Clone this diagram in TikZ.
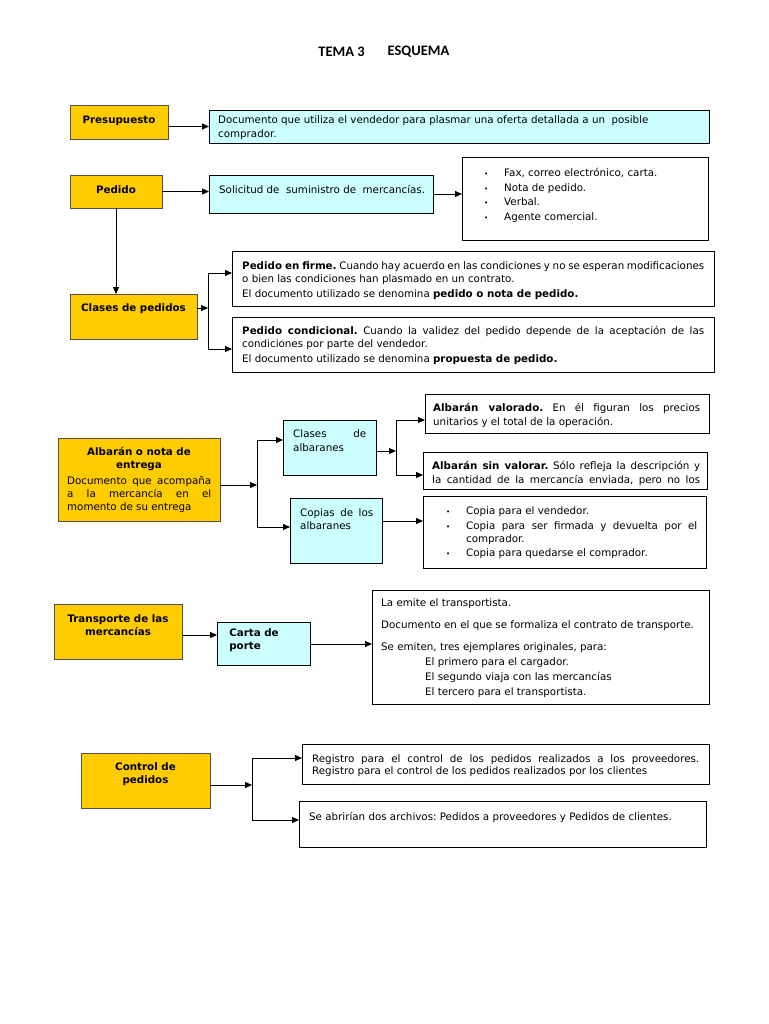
\documentclass[tikz,border=0pt]{standalone}
\usepackage{fontspec}
\setmainfont{DejaVu Sans}
\newfontfamily\titlefont{Carlito}
\usetikzlibrary{arrows.meta}
\definecolor{yel}{HTML}{FFCC00}
\definecolor{cya}{HTML}{CCFFFF}
\definecolor{ybord}{HTML}{505050}
\frenchspacing
\newcommand{\jl}[2]{\makebox[#1pt][s]{#2}}
\newcommand{\bul}{\makebox[20pt][l]{\fontsize{7}{7}\selectfont •}}
\tikzset{
  base/.style={inner sep=0pt, outer sep=0pt, line width=0.9pt},
  ybox/.style={base, draw=ybord, fill=yel},
  cbox/.style={base, draw=black, fill=cya},
  wbox/.style={base, draw=black, fill=white},
  arr/.style={line width=0.9pt, -{Triangle[length=7pt,width=6pt]}},
  ln/.style={line width=0.9pt},
  txt/.style={anchor=north west, inner sep=0pt, align=left, font=\fontsize{10.3}{13.5}\selectfont\frenchspacing},
  btxt/.style={inner sep=0pt, align=center, font=\fontsize{10.3}{12.5}\selectfont\bfseries},
}
\begin{document}
\begin{tikzpicture}[x=1pt,y=-1pt]
\useasboundingbox (0,0) rectangle (768,1024);
% title
\node[inner sep=0pt, font=\titlefont\fontsize{14.5}{16}\selectfont\bfseries] (t1) at (341.5,52) {TEMA 3};
\node[inner sep=0pt, font=\titlefont\fontsize{14.5}{16}\selectfont\bfseries] (t2) at (418.5,52) {ESQUEMA};

% boxes
\node[ybox, minimum width=98pt, minimum height=34pt] (pres) at (119,122) {};
\node[cbox, minimum width=500pt, minimum height=33pt] (doc) at (459,126.5) {};
\node[ybox, minimum width=92pt, minimum height=33pt] (pedido) at (116,191.5) {};
\node[cbox, minimum width=224pt, minimum height=38pt] (sol) at (321,194) {};
\node[wbox, minimum width=246pt, minimum height=83pt] (list) at (585,198.5) {};
\node[ybox, minimum width=127pt, minimum height=45pt] (clases) at (133.5,316.5) {};
\node[wbox, minimum width=482pt, minimum height=55pt] (firme) at (473,278.5) {};
\node[wbox, minimum width=482pt, minimum height=55pt] (cond) at (473,344.5) {};
\node[ybox, minimum width=162pt, minimum height=83pt] (alb) at (139,479.5) {};
\node[cbox, minimum width=93pt, minimum height=55pt] (calb) at (329.5,447.5) {};
\node[wbox, minimum width=284pt, minimum height=39pt] (valor) at (567,413.5) {};
\node[wbox, minimum width=284pt, minimum height=37pt] (sinval) at (565,470.5) {};
\node[cbox, minimum width=92pt, minimum height=65pt] (copias) at (336,530.5) {};
\node[wbox, minimum width=283pt, minimum height=72pt] (clist) at (564.5,532) {};
\node[ybox, minimum width=128pt, minimum height=55pt] (transp) at (118,631.5) {};
\node[cbox, minimum width=93pt, minimum height=43pt] (carta) at (263.5,643.5) {};
\node[wbox, minimum width=337pt, minimum height=114pt] (tbox) at (540.5,647) {};
\node[ybox, minimum width=129pt, minimum height=55pt] (control) at (145.5,780.5) {};
\node[wbox, minimum width=407pt, minimum height=40pt] (reg) at (505.5,764) {};
\node[wbox, minimum width=407pt, minimum height=46pt] (abr) at (502.5,824) {};

% texts
\node[btxt] (presT) at (119,121) {Presupuesto};
\node[txt, font=\fontsize{10.3}{14}\selectfont] (docT) at (218,115) {Documento que utiliza el vendedor para plasmar una oferta detallada a un~ posible\\comprador.};
\node[btxt] (pedT) at (116,190) {Pedido};
\node[txt] (solT) at (219,185.5) {Solicitud de~ suministro de~ mercancías.};
\node[txt, font=\fontsize{10.3}{14.5}\selectfont] (listT) at (484,168.5) {\bul Fax, correo electrónico, carta.\\\bul Nota de pedido.\\\bul Verbal.\\\bul Agente comercial.};
\node[btxt] (clasT) at (133.5,309) {Clases de pedidos};
\node[txt] (firT) at (242,261.5) {\jl{462}{\textbf{Pedido en firme.} Cuando hay acuerdo en las condiciones y no se esperan modificaciones}\\[-0.5pt] o bien las condiciones han plasmado en un contrato.\\[1pt]El documento utilizado se denomina \textbf{pedido o nota de pedido.}};
\node[txt] (conT) at (242,326.5) {\jl{462}{\textbf{Pedido condicional.} Cuando la validez del pedido depende de la aceptación de las}\\[-0.5pt]condiciones por parte del vendedor.\\[1pt]El documento utilizado se denomina \textbf{propuesta de pedido.}};
\node[btxt, align=center] (albT) at (139,459) {Albarán o nota de\\entrega};
\node[txt, font=\fontsize{10.3}{13}\selectfont] (albD) at (67,476.5) {\jl{144}{Documento que acompaña}\\\jl{144}{a la mercancía en el}\\momento de su entrega};
\node[txt] (calbT) at (293,429.5) {\jl{73}{Clases\hfill de}\\albaranes};
\node[txt] (valT) at (433,403.5) {\jl{267}{\textbf{Albarán valorado.} En él figuran los precios}\\unitarios y el total de la operación.};
\node[txt] (sinT) at (432,461.5) {\jl{268}{\textbf{Albarán sin valorar.} Sólo refleja la descripción y}\\\jl{268}{la cantidad de la mercancía enviada, pero no los}};
\node[txt, font=\fontsize{10.3}{12.5}\selectfont] (copT) at (300,508.5) {\jl{73}{Copias de los}\\albaranes};
\node[txt, font=\fontsize{10.3}{14.5}\selectfont] (clT) at (446,506.5) {\bul Copia para el vendedor.\\\bul\jl{231}{Copia para ser firmada y devuelta por el}\\[-1.5pt]\hspace*{20pt}comprador.\\\bul Copia para quedarse el comprador.};
\node[btxt] (trT) at (118,625) {Transporte de las\\mercancías};
\node[btxt, align=left] (caT) at (254,640) {Carta de\\porte};
\node[txt, font=\fontsize{10.3}{15}\selectfont] (tbT) at (381,598.5) {La emite el transportista.\\[7pt]Documento en el que se formaliza el contrato de transporte.\\[7pt]Se emiten, tres ejemplares originales, para:\\\hspace*{44pt}El primero para el cargador.\\\hspace*{44pt}El segundo viaja con las mercancías\\\hspace*{44pt}El tercero para el transportista.};
\node[btxt] (coT) at (145.5,774) {Control de\\pedidos};
\node[txt] (regT) at (312,754) {\jl{387}{Registro para el control de los pedidos realizados a los proveedores.}\\[-1pt]Registro para el control de los pedidos realizados por los clientes};
\node[txt] (abrT) at (309,812.5) {Se abrirían dos archivos: Pedidos a proveedores y Pedidos de clientes.};

% connectors
\draw[arr] (pres.east |- doc.west) -- (doc.west);
\draw[arr] (pedido.east) -- (sol.west |- pedido.east);
\draw[arr] (sol.east) -- (list.west |- sol.east);
\draw[arr] (pedido.south) -- (pedido.south |- clases.north);

\coordinate (cb) at (208,308);
\coordinate (cbt) at (208,273);
\coordinate (cbb) at (208,349);
\draw[arr] (clases.east |- cb) -- (cb);
\draw[ln] (cbt) -- (cbb);
\draw[arr] (cbt) -- (firme.west |- cbt);
\draw[arr] (cbb) -- (cond.west |- cbb);

\coordinate (ab) at (257,485);
\coordinate (abt) at (257,440);
\coordinate (abb) at (257,527);
\draw[arr] (alb.east |- ab) -- (ab);
\draw[ln] (abt) -- (abb);
\draw[arr] (abt) -- (calb.west |- abt);
\draw[arr] (abb) -- (copias.west |- abb);

\coordinate (kb) at (396,451);
\coordinate (kbt) at (396,420);
\coordinate (kbb) at (396,475);
\draw[arr] (calb.east |- kb) -- (kb);
\draw[ln] (kbt) -- (kbb);
\draw[arr] (kbt) -- (valor.west |- kbt);
\draw[arr] (kbb) -- (sinval.west |- kbb);

\coordinate (cp) at (382,521);
\draw[arr] (cp) -- (clist.west |- cp);

\coordinate (tc) at (182,635);
\draw[arr] (tc) -- (carta.west |- tc);
\coordinate (ct) at (310,644);
\draw[arr] (ct) -- (tbox.west |- ct);

\coordinate (ob) at (252,785);
\coordinate (obt) at (252,758);
\coordinate (obb) at (252,820);
\draw[arr] (control.east |- ob) -- (ob);
\draw[ln] (obt) -- (obb);
\draw[arr] (obt) -- (reg.west |- obt);
\draw[arr] (obb) -- (abr.west |- obb);
\end{tikzpicture}
\end{document}
